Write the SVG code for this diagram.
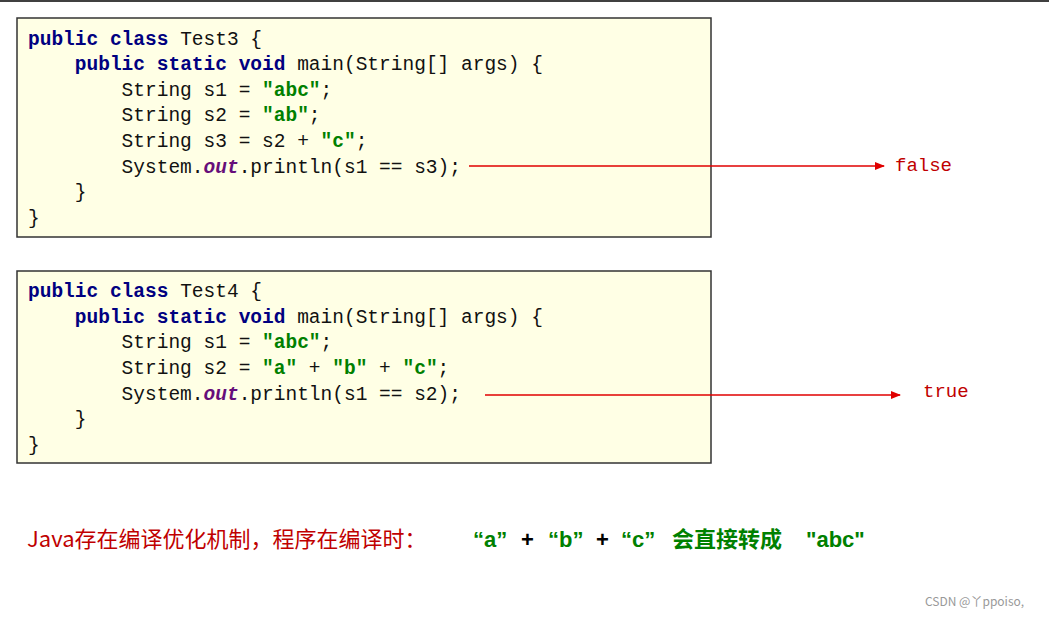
<svg xmlns="http://www.w3.org/2000/svg" width="1049" height="618" viewBox="0 0 1049 618">
<style>
.box{fill:#ffffe5;stroke:#333;stroke-width:1.5}
.code{font-family:"Liberation Mono","DejaVu Sans Mono",monospace;font-size:19.5px;fill:#111}
.kw{fill:#000080;font-weight:bold}
.str{fill:#008000;font-weight:bold}
.it{fill:#660e7a;font-weight:bold;font-style:italic}
.res{font-family:"Liberation Mono","DejaVu Sans Mono",monospace;font-size:19px;fill:#c00000}
.arr{stroke:#e00000;stroke-width:1.5;fill:none}
.cn{font-family:"Noto Sans CJK SC","Liberation Sans",sans-serif;font-size:22px}
.q{font-family:"Liberation Sans",sans-serif;font-size:22px;font-weight:bold}
.wm{font-family:"Noto Sans CJK SC","Liberation Sans",sans-serif;font-size:12px;fill:#999}
</style>
<defs><marker id="ah" markerWidth="10" markerHeight="8" refX="9" refY="4" orient="auto" markerUnits="userSpaceOnUse"><path d="M0,0 L10,4 L0,8 z" fill="#e00000"/></marker></defs>
<line x1="0" y1="1" x2="1049" y2="1" stroke="#000" stroke-width="1.5"/>
<g id="test3">
<rect class="box" x="17" y="18" width="694" height="219"/>
<text class="code" xml:space="preserve"><tspan x="28" y="45"><tspan class="kw">public class</tspan> Test3 {</tspan><tspan x="28" y="70">    <tspan class="kw">public static void</tspan> main(String[] args) {</tspan><tspan x="28" y="96">        String s1 = <tspan class="str">"abc"</tspan>;</tspan><tspan x="28" y="121">        String s2 = <tspan class="str">"ab"</tspan>;</tspan><tspan x="28" y="147">        String s3 = s2 + <tspan class="str">"c"</tspan>;</tspan><tspan x="28" y="173">        System.<tspan class="it">out</tspan>.println(s1 == s3);</tspan><tspan x="28" y="198">    }</tspan><tspan x="28" y="224">}</tspan></text>
</g>
<g id="test4">
<rect class="box" x="17" y="271" width="694" height="192"/>
<text class="code" xml:space="preserve"><tspan x="28" y="297"><tspan class="kw">public class</tspan> Test4 {</tspan><tspan x="28" y="323">    <tspan class="kw">public static void</tspan> main(String[] args) {</tspan><tspan x="28" y="348">        String s1 = <tspan class="str">"abc"</tspan>;</tspan><tspan x="28" y="374">        String s2 = <tspan class="str">"a"</tspan> + <tspan class="str">"b"</tspan> + <tspan class="str">"c"</tspan>;</tspan><tspan x="28" y="400">        System.<tspan class="it">out</tspan>.println(s1 == s2);</tspan><tspan x="28" y="425">    }</tspan><tspan x="28" y="451">}</tspan></text>
</g>
<g id="connectors">
<line class="arr" x1="469" y1="166" x2="884" y2="166" marker-end="url(#ah)"/>
<line class="arr" x1="485" y1="395" x2="900" y2="395" marker-end="url(#ah)"/>
</g>
<g id="results">
<text class="res" x="895" y="171">false</text>
<text class="res" x="923" y="397">true</text>
</g>
<g id="note">
<text class="cn" x="27" y="547" fill="#c00000">Java存在编译优化机制，程序在编译时：</text>
<text class="q" y="547" fill="#008000"><tspan x="473">“a”</tspan><tspan x="521" fill="#000">+</tspan><tspan x="548">“b”</tspan><tspan x="596" fill="#000">+</tspan><tspan x="621">“c”</tspan></text>
<text class="cn" x="672" y="547" fill="#008000" font-weight="bold">会直接转成</text>
<text class="q" x="806" y="547" fill="#008000">"abc"</text>
</g>
<text class="wm" x="925" y="606">CSDN @丫ppoiso,</text>
</svg>
